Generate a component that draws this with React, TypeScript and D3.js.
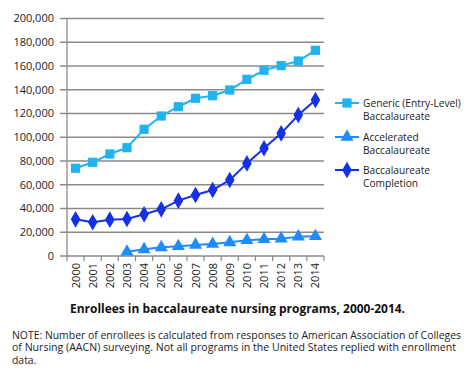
import React from "react";
import * as d3 from "d3";

const years = ["2000","2001","2002","2003","2004","2005","2006","2007","2008","2009","2010","2011","2012","2013","2014"];
const generic = [73900, 78900, 85900, 91200, 106700, 117900, 125700, 132800, 135000, 139800, 148800, 156400, 160300, 164200, 173200];
const accelerated: (number | null)[] = [null, null, null, 3600, 5600, 7300, 8200, 9300, 10100, 11500, 13200, 14100, 14600, 16300, 16600];
const completion = [30900, 28400, 30600, 31200, 35100, 39300, 46600, 51400, 55600, 64000, 78000, 90700, 103300, 118700, 131400];
const yTicks = [0, 20000, 40000, 60000, 80000, 100000, 120000, 140000, 160000, 180000, 200000];
const legendLabels = [["Generic (Entry-Level)", "Baccalaureate"], ["Accelerated", "Baccalaureate"], ["Baccalaureate", "Completion"]];
const title = "Enrollees in baccalaureate nursing programs, 2000-2014.";
const noteLines = [
  "NOTE: Number of enrollees is calculated from responses to American Association of Colleges",
  "of Nursing (AACN) surveying. Not all programs in the United States replied with enrollment",
  "data.",
];

const colors = ["#1FB3F0", "#1E8BFF", "#1530E6"];
const FONT = "'Open Sans', 'DejaVu Sans', sans-serif";

export default function App() {
  const W = 474, H = 378;
  const x = d3.scaleBand().domain(years).range([67, 324]);
  const y = d3.scaleLinear().domain([0, 200000]).range([256, 18.5]);
  const cx = (i: number) => (x(years[i]) as number) + x.bandwidth() / 2;

  const line = d3.line<number | null>()
    .defined((d) => d != null)
    .x((_, i) => cx(i))
    .y((d) => y(d as number));

  const series = [generic, accelerated, completion];
  const sym = [d3.symbolSquare, d3.symbolTriangle, d3.symbolDiamond];
  const symSize = [85, 75, 80];
  const symPath = sym.map((s, k) => d3.symbol().type(s).size(symSize[k])() as string);

  const legendY = [103, 137, 170];

  return (
    <svg width={W} height={H} style={{ position: "absolute", left: 0, top: 0, background: "#fff" }}>
      <rect width={W} height={H} fill="#fff" />
      {yTicks.map((t) => (
        <g key={t}>
          <line x1={60} x2={324} y1={y(t)} y2={y(t)} stroke="#8a8a8a" strokeWidth={1.3} />
          <text x={54} y={y(t)} dy="0.35em" textAnchor="end" fontFamily={FONT} fontSize={11} fill="#222">
            {d3.format(",")(t)}
          </text>
        </g>
      ))}
      <line x1={67} x2={67} y1={y(200000)} y2={256} stroke="#8a8a8a" strokeWidth={1.3} />
      {years.map((yr) => (
        <line key={"t" + yr} x1={x(yr) as number} x2={x(yr) as number} y1={256} y2={261} stroke="#8a8a8a" strokeWidth={1.2} />
      ))}
      <line x1={324} x2={324} y1={256} y2={261} stroke="#8a8a8a" strokeWidth={1.2} />
      {years.map((yr, i) => (
        <text key={"l" + yr} transform={`translate(${cx(i) + 4},${263}) rotate(-90)`} textAnchor="end"
          fontFamily={FONT} fontSize={11} fill="#222">
          {yr}
        </text>
      ))}
      {series.map((s, k) => (
        <g key={k}>
          <path d={line(s as (number | null)[]) as string} fill="none" stroke={colors[k]} strokeWidth={2} />
          {s.map((v, i) =>
            v == null ? null : (
              <path key={i} d={symPath[k]} transform={`translate(${cx(i)},${y(v as number)})`} fill={colors[k]} />
            )
          )}
        </g>
      ))}
      {legendLabels.map((lab, k) => (
        <g key={"lg" + k}>
          <line x1={335} x2={359} y1={legendY[k]} y2={legendY[k]} stroke={colors[k]} strokeWidth={2} />
          <path d={symPath[k]} transform={`translate(347,${legendY[k]})`} fill={colors[k]} />
          <text x={363} y={legendY[k] + 4} fontFamily={FONT} fontSize={10.2} fill="#222">{lab[0]}</text>
          <text x={363} y={legendY[k] + 17} fontFamily={FONT} fontSize={10.2} fill="#222">{lab[1]}</text>
        </g>
      ))}
      <text x={70} y={313} textLength={335} lengthAdjust="spacingAndGlyphs" fontFamily={FONT} fontWeight="bold" fontSize={13} fill="#111">
        {title}
      </text>
      {noteLines.map((l, i) => (
        <text key={i} x={12} y={338.5 + i * 12.7} fontFamily={FONT} fontSize={10.4} fill="#222"
          {...(i < 2 ? { textLength: i === 0 ? 449 : 444, lengthAdjust: "spacingAndGlyphs" } : {})}>
          {l}
        </text>
      ))}
    </svg>
  );
}
